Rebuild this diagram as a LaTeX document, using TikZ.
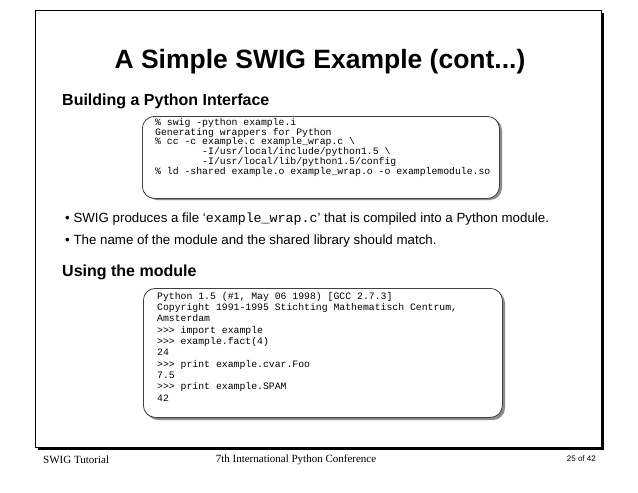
\documentclass[tikz,border=0pt]{standalone}
\usepackage{fontspec}
\setmainfont{Liberation Serif}
\setsansfont{Liberation Sans}
\setmonofont{Liberation Mono}
\begin{document}
\begin{tikzpicture}[x=1pt,y=-1pt,
  codebox/.style={draw=black!75,line width=0.8pt,rounded corners=12pt,fill=white},
  shadow/.style={fill=black!45,rounded corners=12pt},
  code/.style={anchor=north west,font=\ttfamily\fontsize{9.8}{9.8}\selectfont,align=left,inner sep=0pt},
  head/.style={anchor=west,font=\sffamily\bfseries\fontsize{16}{19}\selectfont,inner sep=0pt},
  bul/.style={anchor=west,font=\sffamily\fontsize{13.3}{15}\selectfont,inner sep=0pt},
  foot/.style={font=\rmfamily\fontsize{11}{13}\selectfont,inner sep=0pt}]
\useasboundingbox[fill=white] (0,0) rectangle (638,493);
% frame
\fill[black] (38,13) rectangle (604,450);
\draw[fill=white,line width=0.6pt] (35,10) rectangle (601,447);
\node[font=\sffamily\bfseries\fontsize{26.5}{30}\selectfont] (title) at (320,62) {A Simple SWIG Example (cont...)};
\node[head] (h1) at (62,101) {Building a Python Interface};
% box 1
\fill[shadow] (145,118) rectangle (502,200);
\node[codebox,minimum width=357pt,minimum height=82pt,anchor=north west] (b1) at (142,116) {};
\node[code] (c1) at (155,118) {\% swig -python example.i\\
Generating wrappers for Python\\
\% cc -c example.c example\_wrap.c \textbackslash\\
\phantom{xxxxxxxx}-I/usr/local/include/python1.5 \textbackslash\\
\phantom{xxxxxxxx}-I/usr/local/lib/python1.5/config\\
\% ld -shared example.o example\_wrap.o -o examplemodule.so};
\node[bul] (p1) at (65,219) {\textbullet\ SWIG produces a file `{\ttfamily\fontsize{13.3}{15}\selectfont example\_wrap.c}' that is compiled into a Python module.};
\node[bul] (p2) at (65,241) {\textbullet\ The name of the module and the shared library should match.};
\node[head] (h2) at (62,272) {Using the module};
% box 2
\fill[shadow] (146,291) rectangle (505,420);
\node[codebox,minimum width=359pt,minimum height=129pt,anchor=north west] (b2) at (143,288) {};
\node[code,font=\ttfamily\fontsize{9.8}{11.3}\selectfont] (c2) at (157,292) {Python 1.5 (\#1, May 06 1998)  [GCC 2.7.3]\\
Copyright 1991-1995 Stichting Mathematisch Centrum,\\
Amsterdam\\
>{}>{}> import example\\
>{}>{}> example.fact(4)\\
24\\
>{}>{}> print example.cvar.Foo\\
7.5\\
>{}>{}> print example.SPAM\\
42};
\node[foot,anchor=west] (f1) at (43,460) {SWIG Tutorial};
\node[foot] (f2) at (296,460) {7th International Python Conference};
\node[font=\sffamily\fontsize{8}{9}\selectfont,anchor=east,inner sep=0pt] (f3) at (596,459) {25 of 42};
\end{tikzpicture}
\end{document}
